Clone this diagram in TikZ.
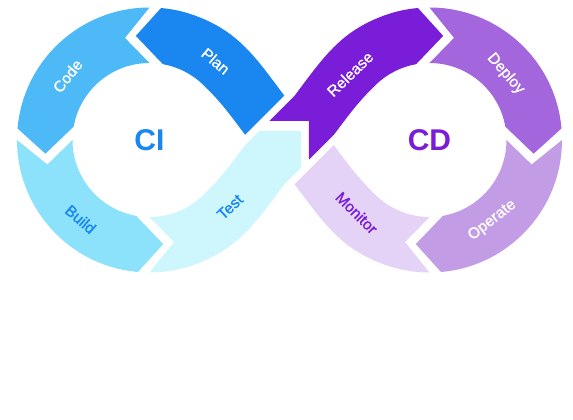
\documentclass[tikz,border=0pt]{standalone}
\usepackage{fontspec}
\setmainfont{Liberation Sans}
\newfontfamily\medfont[FakeBold=1.2]{Liberation Sans}
\usetikzlibrary{calc}

\definecolor{codec}{HTML}{4DB9F6}
\definecolor{planc}{HTML}{1A87F0}
\definecolor{buildc}{HTML}{8CE1FB}
\definecolor{testc}{HTML}{CDF6FD}
\definecolor{releasec}{HTML}{7A1DD8}
\definecolor{deployc}{HTML}{A366DD}
\definecolor{operatec}{HTML}{C39CE6}
\definecolor{monitorc}{HTML}{E4D3F6}

\begin{document}
\begin{tikzpicture}[x=1pt,y=1pt,
    lbl/.style={font=\medfont\fontsize{15.5}{15.5}\selectfont},
    loopname/.style={font=\bfseries\fontsize{30}{30}\selectfont}]
  \useasboundingbox (-289.5,-280) rectangle (283.5,140);

  % ループの中心
  \coordinate (lc) at (-140,0);
  \coordinate (rc) at (140,0);

  % 左のループ (CI)
  \fill[codec] ($(lc)+(90:132.5)$) -- ($(lc)+(103.5:105)$) -- ($(lc)+(90:77)$)
    arc[start angle=90,end angle=170,radius=77] -- ($(lc)+(187.5:105)$)
    -- ($(lc)+(175:132.5)$) arc[start angle=175,end angle=90,radius=132.5] -- cycle;
  \fill[buildc] ($(lc)+(180:132.5)$) -- ($(lc)+(193.5:105)$) -- ($(lc)+(180:77)$)
    arc[start angle=180,end angle=260,radius=77] -- ($(lc)+(277.5:105)$)
    -- ($(lc)+(265:132.5)$) arc[start angle=265,end angle=180,radius=132.5] -- cycle;
  \fill[testc] ($(lc)+(270:132.5)$) -- ($(lc)+(283.5:105)$) -- ($(lc)+(270:77)$)
    arc[start angle=270,end angle=314,radius=77] to[out=44,in=-127] (-44.35,-5.15)
    -- (-30.2,9) -- (11.5,9) -- (11.5,-27.7) -- (-5.15,-44.35)
    to[out=-127,in=20] ($(lc)+(-70:132.5)$) arc[start angle=-70,end angle=-90,radius=132.5] -- cycle;
  \fill[planc] (-5.15,44.35) to[out=127,in=-20] ($(lc)+(70:132.5)$)
    arc[start angle=70,end angle=85,radius=132.5] -- ($(lc)+(97.5:105)$)
    -- ($(lc)+(80:77)$) arc[start angle=80,end angle=46,radius=77]
    to[out=-44,in=127] (-44.35,5.15) -- cycle;

  % 右のループ (CD)
  \fill[releasec] (-20.2,19) -- (19.5,19) -- (19.5,-19.7) -- (44.35,5.15)
    to[out=53,in=-136] ($(rc)+(134:77)$) arc[start angle=134,end angle=100,radius=77]
    -- ($(rc)+(82.5:105)$) -- ($(rc)+(95:132.5)$)
    arc[start angle=95,end angle=110,radius=132.5] to[out=-160,in=53] (5.15,44.35) -- cycle;
  \fill[deployc] ($(rc)+(90:132.5)$) -- ($(rc)+(76.5:105)$) -- ($(rc)+(90:77)$)
    arc[start angle=90,end angle=10,radius=77] -- ($(rc)+(-7.5:105)$)
    -- ($(rc)+(5:132.5)$) arc[start angle=5,end angle=90,radius=132.5] -- cycle;
  \fill[operatec] ($(rc)+(0:132.5)$) -- ($(rc)+(-13.5:105)$) -- ($(rc)+(0:77)$)
    arc[start angle=0,end angle=-80,radius=77] -- ($(rc)+(-97.5:105)$)
    -- ($(rc)+(-85:132.5)$) arc[start angle=-85,end angle=0,radius=132.5] -- cycle;
  \fill[monitorc] ($(rc)+(270:132.5)$) -- ($(rc)+(256.5:105)$) -- ($(rc)+(270:77)$)
    arc[start angle=270,end angle=226,radius=77] to[out=136,in=-53] (44.35,-5.15)
    -- (5.15,-44.35) to[out=-53,in=160] ($(rc)+(250:132.5)$)
    arc[start angle=250,end angle=270,radius=132.5] -- cycle;

  % ラベル
  \node[loopname,text=planc] (ci) at (lc) {CI};
  \node[loopname,text=releasec] (cd) at (rc) {CD};
  \node[lbl,text=white,rotate=52] (code) at ($(lc)+(142:104)$) {Code};
  \node[lbl,text=white,rotate=-40] (plan) at ($(lc)+(50:103)$) {Plan};
  \node[lbl,text=planc,rotate=-41] (build) at ($(lc)+(229:105)$) {Build};
  \node[lbl,text=planc,rotate=43] (test) at (-59.5,-67) {Test};
  \node[lbl,text=white,rotate=44] (release) at (60.5,66) {Release};
  \node[lbl,text=white,rotate=-49] (deploy) at ($(rc)+(41:101)$) {Deploy};
  \node[lbl,text=white,rotate=38] (operate) at ($(rc)+(-52:102)$) {Operate};
  \node[lbl,text=releasec,rotate=-45] (monitor) at ($(rc)+(225:103)$) {Monitor};
\end{tikzpicture}
\end{document}
